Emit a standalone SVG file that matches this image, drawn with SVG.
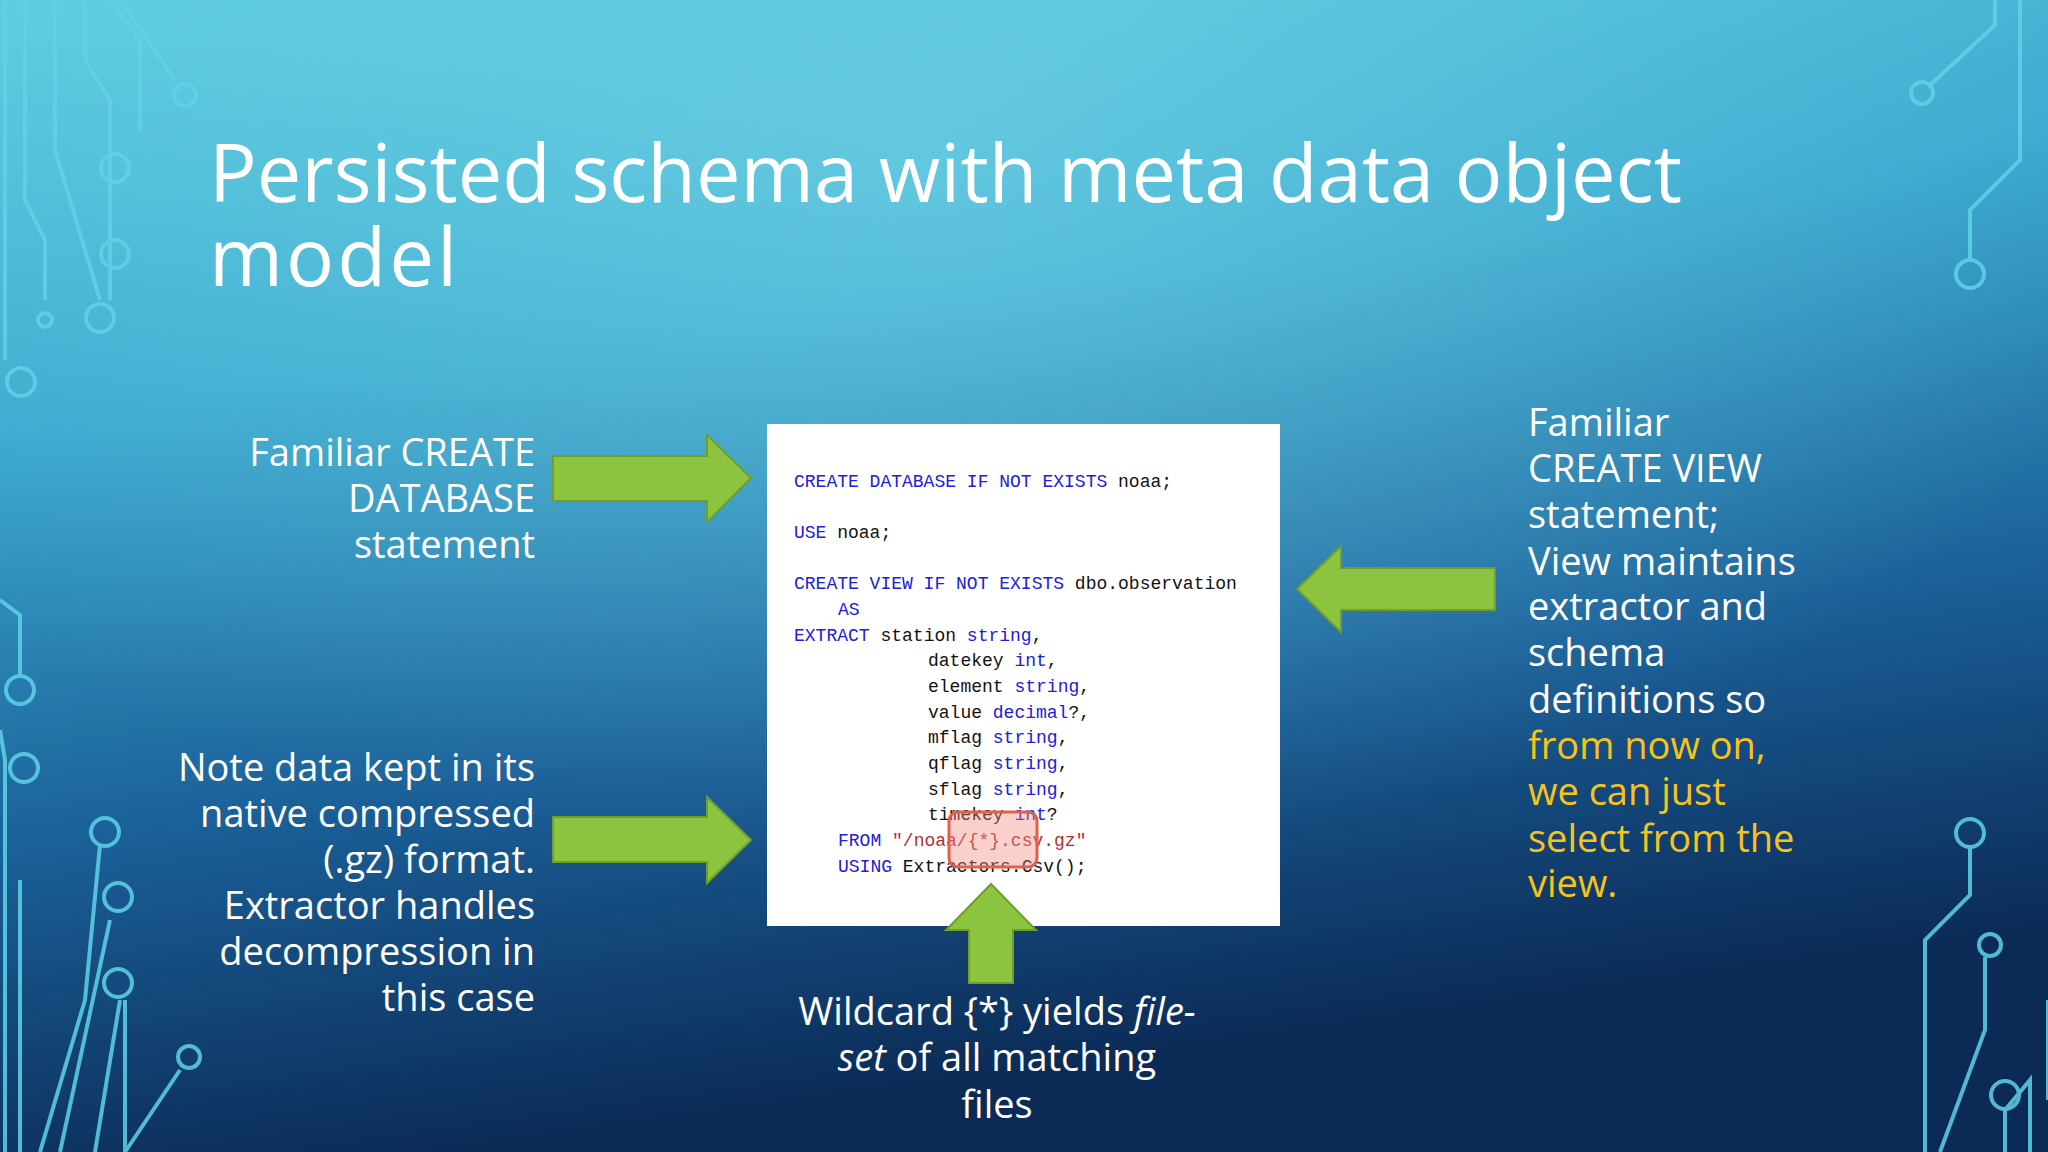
<svg xmlns="http://www.w3.org/2000/svg" width="2048" height="1152" viewBox="0 0 2048 1152">
<defs>
<linearGradient id="bg" x1="0" y1="0" x2="0.25" y2="1">
<stop offset="0" stop-color="#5ccbde"/>
<stop offset="0.35" stop-color="#3aa8cf"/>
<stop offset="0.7" stop-color="#1a5f98"/>
<stop offset="1" stop-color="#0b2a55"/>
</linearGradient>
<radialGradient id="glow" cx="0.45" cy="0.15" r="0.6">
<stop offset="0" stop-color="#7fdcea" stop-opacity="0.5"/>
<stop offset="1" stop-color="#7fdcea" stop-opacity="0"/>
</radialGradient>
</defs>
<style>
.t{font-family:"Open Sans","DejaVu Sans",sans-serif;fill:#fff}
.lab{font-size:38px}
.y{fill:#f6c31c}
.c{font-family:"Liberation Mono",monospace;font-size:18px;fill:#111}
.k{fill:#2020d8}
.s{fill:#b03030}
.ar{fill:#8cc43f;stroke:#6f9e2c;stroke-width:2}
.dec{fill:none;stroke:#5fd3e8;stroke-width:4;opacity:0.85}
</style>
<rect width="2048" height="1152" fill="url(#bg)"/>
<rect width="2048" height="1152" fill="url(#glow)"/>
<g id="decor" class="dec">
<path d="M5 0V360M25 0V200L45 240V300M55 0V150L100 300M85 0V60L110 100V300M110 0L140 40V130M120 0L175 80"/>
<circle cx="185" cy="95" r="11"/><circle cx="115" cy="168" r="14"/><circle cx="115" cy="254" r="14"/><circle cx="100" cy="318" r="14"/><circle cx="45" cy="320" r="7"/><circle cx="21" cy="382" r="14"/>
<path d="M0 600L20 615V675M0 730L5 760V1152M20 880V1152M40 1152L85 1000L100 845M60 1152L110 920M95 1152L120 1000M125 1152V1000M125 1152L180 1070"/>
<circle cx="20" cy="690" r="14"/><circle cx="24" cy="768" r="14"/><circle cx="105" cy="832" r="14"/><circle cx="118" cy="897" r="14"/><circle cx="118" cy="983" r="14"/><circle cx="189" cy="1057" r="11"/>
<path d="M1970 260V210L2020 160V0M1930 85L1995 25V0"/>
<circle cx="1922" cy="93" r="11"/><circle cx="1970" cy="274" r="14"/>
<path d="M1925 1152V940L1970 895V848M1940 1152L1985 1030V957M2005 1152V1110L2030 1080V1152M2048 1000V1100"/>
<circle cx="1970" cy="833" r="14"/><circle cx="1990" cy="945" r="11"/><circle cx="2005" cy="1095" r="14"/>
</g>
<g id="title">
<text class="t" x="209" y="202" font-size="80" textLength="1473" lengthAdjust="spacingAndGlyphs">Persisted schema with meta data object</text>
<text class="t" x="209" y="286" font-size="80" letter-spacing="3">model</text>
</g>
<g id="code">
<rect x="767" y="424" width="513" height="502" fill="#fff"/>
<text class="c" x="794" y="487"><tspan class="k">CREATE DATABASE IF NOT EXISTS</tspan> noaa;</text>
<text class="c" x="794" y="538"><tspan class="k">USE</tspan> noaa;</text>
<text class="c" x="794" y="589"><tspan class="k">CREATE VIEW IF NOT EXISTS</tspan> dbo.observation</text>
<text class="c k" x="838" y="615">AS</text>
<text class="c" x="794" y="641"><tspan class="k">EXTRACT</tspan> station <tspan class="k">string</tspan>,</text>
<text class="c" x="928" y="666">datekey <tspan class="k">int</tspan>,</text>
<text class="c" x="928" y="692">element <tspan class="k">string</tspan>,</text>
<text class="c" x="928" y="718">value <tspan class="k">decimal</tspan>?,</text>
<text class="c" x="928" y="743">mflag <tspan class="k">string</tspan>,</text>
<text class="c" x="928" y="769">qflag <tspan class="k">string</tspan>,</text>
<text class="c" x="928" y="795">sflag <tspan class="k">string</tspan>,</text>
<text class="c" x="928" y="820">timekey <tspan class="k">int</tspan>?</text>
<text class="c" x="838" y="846"><tspan class="k">FROM</tspan> <tspan class="s">"/noaa/{*}.csv.gz"</tspan></text>
<text class="c" x="838" y="872"><tspan class="k">USING</tspan> Extractors.Csv();</text>
<rect x="949" y="812" width="88" height="55" rx="9" fill="#f08a80" fill-opacity="0.4" stroke="#e06050" stroke-width="3"/>
</g>
<g id="connectors">
<polygon class="ar" points="553,456 707,456 707,435 751,478 707,522 707,501 553,501"/>
<polygon class="ar" points="553,817 707,817 707,797 751,840 707,883 707,862 553,862"/>
<polygon class="ar" points="1495,568 1341,568 1341,546 1297,589 1341,632 1341,610 1495,610"/>
<polygon class="ar" points="969,983 969,930 946,930 991,884 1036,930 1013,930 1013,983"/>
</g>
<g id="label-db">
<text class="t lab" text-anchor="end" x="535" y="466">Familiar CREATE</text>
<text class="t lab" text-anchor="end" x="535" y="512">DATABASE</text>
<text class="t lab" text-anchor="end" x="535" y="558">statement</text>
</g>
<g id="label-note">
<text class="t lab" text-anchor="end" x="535" y="781">Note data kept in its</text>
<text class="t lab" text-anchor="end" x="535" y="827">native compressed</text>
<text class="t lab" text-anchor="end" x="535" y="873">(.gz) format.</text>
<text class="t lab" text-anchor="end" x="535" y="919">Extractor handles</text>
<text class="t lab" text-anchor="end" x="535" y="965">decompression in</text>
<text class="t lab" text-anchor="end" x="535" y="1011">this case</text>
</g>
<g id="label-view">
<text class="t lab" x="1528" y="436">Familiar</text>
<text class="t lab" x="1528" y="482">CREATE VIEW</text>
<text class="t lab" x="1528" y="528">statement;</text>
<text class="t lab" x="1528" y="575">View maintains</text>
<text class="t lab" x="1528" y="620">extractor and</text>
<text class="t lab" x="1528" y="666">schema</text>
<text class="t lab" x="1528" y="713">definitions so</text>
<text class="t lab y" x="1528" y="759">from now on,</text>
<text class="t lab y" x="1528" y="805">we can just</text>
<text class="t lab y" x="1528" y="852">select from the</text>
<text class="t lab y" x="1528" y="897">view.</text>
</g>
<g id="label-wild">
<text class="t lab" text-anchor="middle" x="997" y="1025">Wildcard {*} yields <tspan font-style="italic">file-</tspan></text>
<text class="t lab" text-anchor="middle" x="997" y="1071"><tspan font-style="italic">set</tspan> of all matching</text>
<text class="t lab" text-anchor="middle" x="997" y="1118">files</text>
</g>
</svg>
